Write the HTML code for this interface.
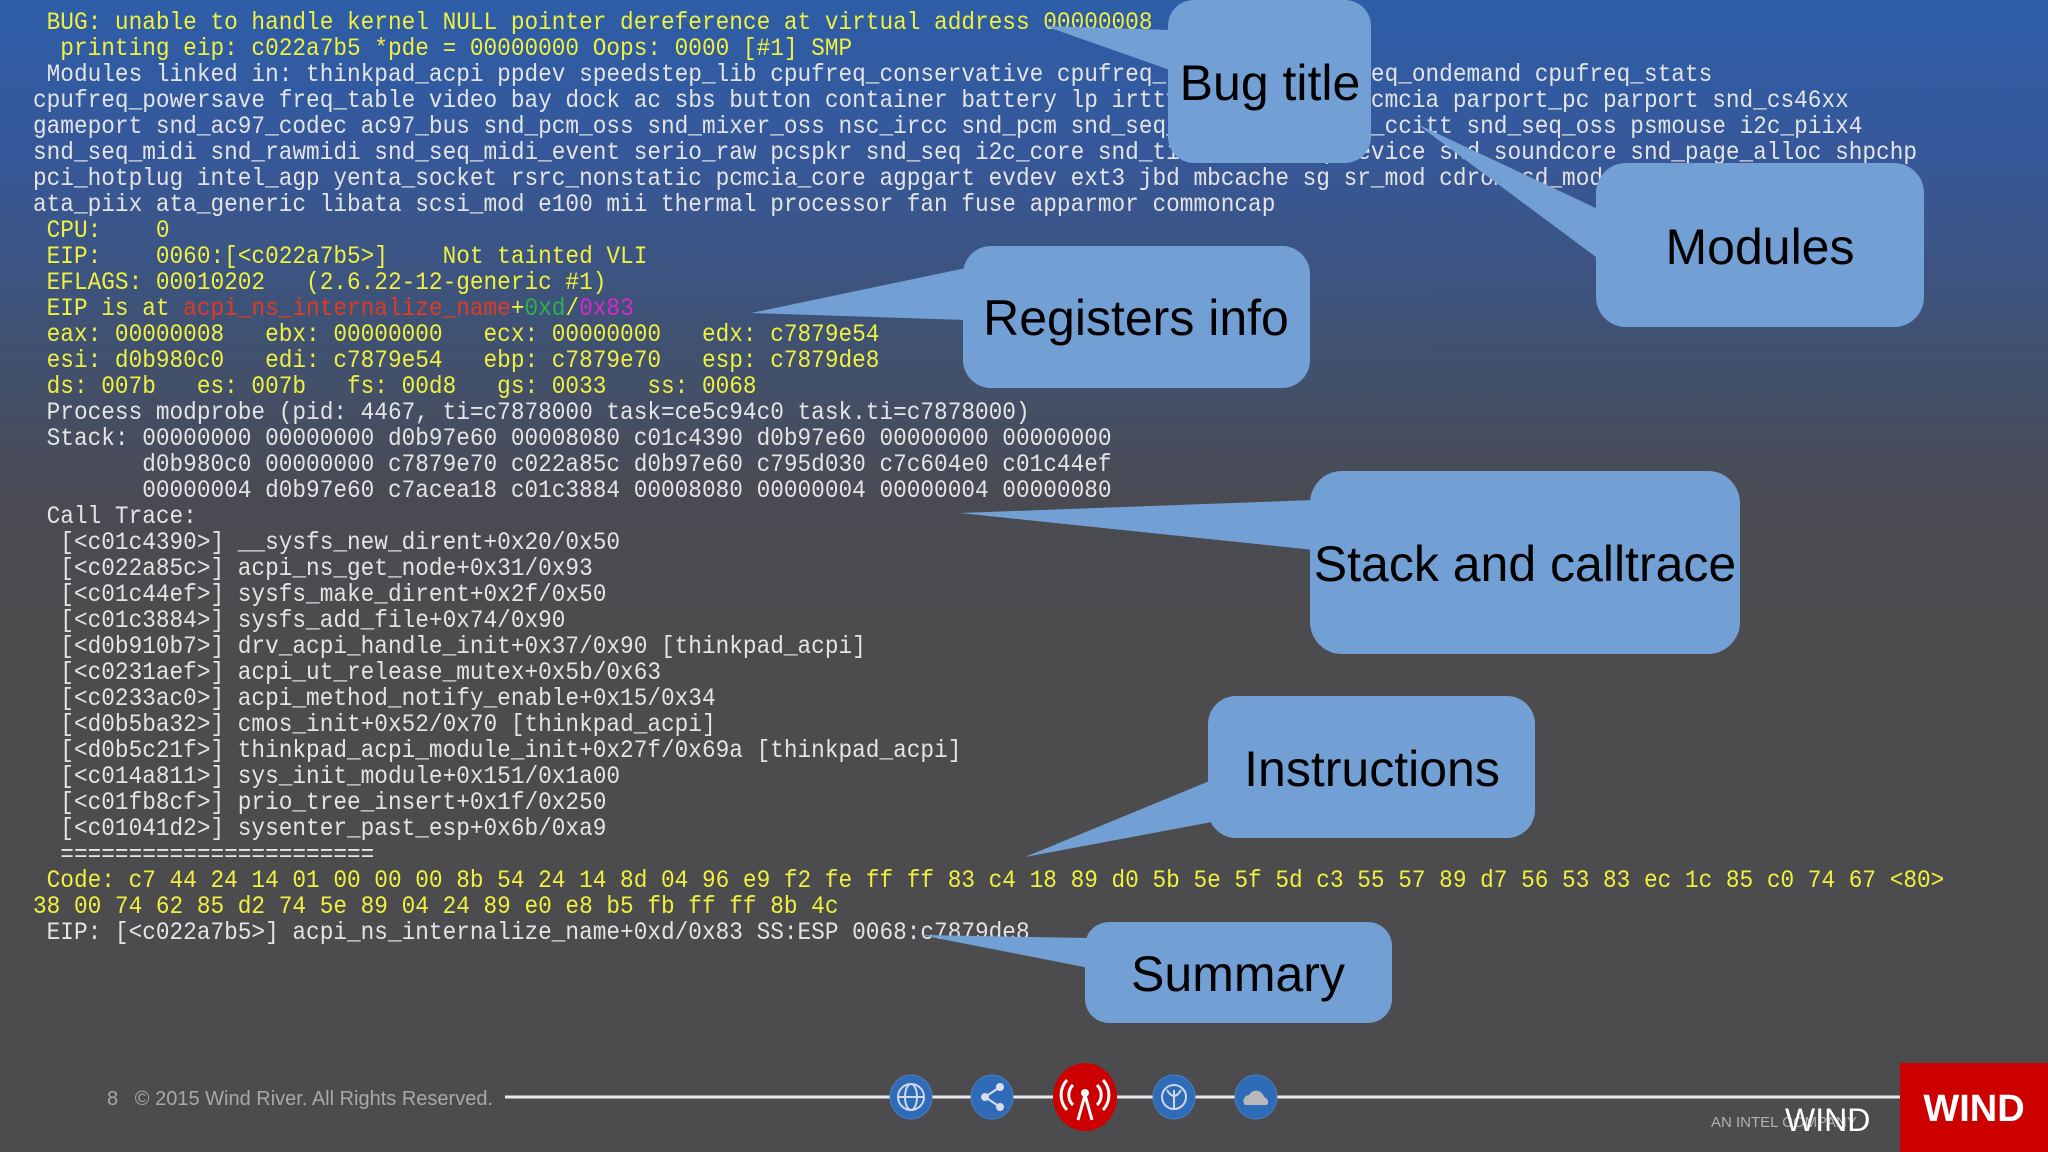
<!DOCTYPE html>
<html><head><meta charset="utf-8">
<style>
html,body{margin:0;padding:0}
body{width:2048px;height:1152px;overflow:hidden;position:relative;
background:linear-gradient(to bottom,#2d5ea8 0px,#36589a 150px,#3f5274 330px,#4a4b52 500px,#4c4c4e 640px,#4c4c4e 1152px);}
pre{position:absolute;left:33px;top:10px;margin:0;font-family:"Liberation Mono",monospace;font-size:25px;line-height:26px;color:#e4e4e4;transform:scaleX(0.91);transform-origin:0 0;width:4000px;}
.y{color:#f0f040}.r{color:#e03a22}.g{color:#2ab34a}.m{color:#d42ac8}
svg{position:absolute;left:0;top:0}
</style></head><body>
<pre><span class="y"> BUG: unable to handle kernel NULL pointer dereference at virtual address 00000008
  printing eip: c022a7b5 *pde = 00000000 Oops: 0000 [#1] SMP</span>
 Modules linked in: thinkpad_acpi ppdev speedstep_lib cpufreq_conservative cpufreq_userspace cpufreq_ondemand cpufreq_stats
cpufreq_powersave freq_table video bay dock ac sbs button container battery lp irtty_sir sir_dev pcmcia parport_pc parport snd_cs46xx
gameport snd_ac97_codec ac97_bus snd_pcm_oss snd_mixer_oss nsc_ircc snd_pcm snd_seq_dummy irda crc_ccitt snd_seq_oss psmouse i2c_piix4
snd_seq_midi snd_rawmidi snd_seq_midi_event serio_raw pcspkr snd_seq i2c_core snd_timer snd_seq_device snd soundcore snd_page_alloc shpchp
pci_hotplug intel_agp yenta_socket rsrc_nonstatic pcmcia_core agpgart evdev ext3 jbd mbcache sg sr_mod cdrom sd_mod
ata_piix ata_generic libata scsi_mod e100 mii thermal processor fan fuse apparmor commoncap
<span class="y"> CPU:    0
 EIP:    0060:[&lt;c022a7b5&gt;]    Not tainted VLI
 EFLAGS: 00010202   (2.6.22-12-generic #1)
 EIP is at <span class="r">acpi_ns_internalize_name</span>+<span class="g">0xd</span>/<span class="m">0x83</span>
 eax: 00000008   ebx: 00000000   ecx: 00000000   edx: c7879e54
 esi: d0b980c0   edi: c7879e54   ebp: c7879e70   esp: c7879de8
 ds: 007b   es: 007b   fs: 00d8   gs: 0033   ss: 0068</span>
 Process modprobe (pid: 4467, ti=c7878000 task=ce5c94c0 task.ti=c7878000)
 Stack: 00000000 00000000 d0b97e60 00008080 c01c4390 d0b97e60 00000000 00000000
        d0b980c0 00000000 c7879e70 c022a85c d0b97e60 c795d030 c7c604e0 c01c44ef
        00000004 d0b97e60 c7acea18 c01c3884 00008080 00000004 00000004 00000080
 Call Trace:
  [&lt;c01c4390&gt;] __sysfs_new_dirent+0x20/0x50
  [&lt;c022a85c&gt;] acpi_ns_get_node+0x31/0x93
  [&lt;c01c44ef&gt;] sysfs_make_dirent+0x2f/0x50
  [&lt;c01c3884&gt;] sysfs_add_file+0x74/0x90
  [&lt;d0b910b7&gt;] drv_acpi_handle_init+0x37/0x90 [thinkpad_acpi]
  [&lt;c0231aef&gt;] acpi_ut_release_mutex+0x5b/0x63
  [&lt;c0233ac0&gt;] acpi_method_notify_enable+0x15/0x34
  [&lt;d0b5ba32&gt;] cmos_init+0x52/0x70 [thinkpad_acpi]
  [&lt;d0b5c21f&gt;] thinkpad_acpi_module_init+0x27f/0x69a [thinkpad_acpi]
  [&lt;c014a811&gt;] sys_init_module+0x151/0x1a00
  [&lt;c01fb8cf&gt;] prio_tree_insert+0x1f/0x250
  [&lt;c01041d2&gt;] sysenter_past_esp+0x6b/0xa9
  =======================
<span class="y"> Code: c7 44 24 14 01 00 00 00 8b 54 24 14 8d 04 96 e9 f2 fe ff ff 83 c4 18 89 d0 5b 5e 5f 5d c3 55 57 89 d7 56 53 83 ec 1c 85 c0 74 67 &lt;80&gt;
38 00 74 62 85 d2 74 5e 89 04 24 89 e0 e8 b5 fb ff ff 8b 4c</span>
 EIP: [&lt;c022a7b5&gt;] acpi_ns_internalize_name+0xd/0x83 SS:ESP 0068:c7879de8</pre>

<svg width="2048" height="1152" viewBox="0 0 2048 1152" font-family="Liberation Sans, sans-serif">
<g fill="#729fd4">
 <polygon points="1045,26 1170,30 1170,70"/>
 <rect x="1168" y="0" width="203" height="163" rx="26"/>
 <polygon points="1417,124 1600,210 1600,260"/>
 <rect x="1596" y="163" width="328" height="164" rx="30"/>
 <polygon points="751,313 966,268 966,320"/>
 <rect x="963" y="246" width="347" height="142" rx="28"/>
 <polygon points="960,513 1314,500 1314,550"/>
 <rect x="1310" y="471" width="430" height="183" rx="32"/>
 <polygon points="1025,857 1212,780 1212,822"/>
 <rect x="1208" y="696" width="327" height="142" rx="28"/>
 <polygon points="921,935 1089,938 1089,968"/>
 <rect x="1085" y="922" width="307" height="101" rx="24"/>
</g>
<g fill="#000" font-size="50" text-anchor="middle">
 <text x="1270" y="100">Bug title</text>
 <text x="1760" y="264">Modules</text>
 <text x="1136" y="335">Registers info</text>
 <text x="1525" y="581">Stack and calltrace</text>
 <text x="1372" y="786">Instructions</text>
 <text x="1238" y="991">Summary</text>
</g>
<line x1="505" y1="1097" x2="1900" y2="1097" stroke="#e8e8e8" stroke-width="3"/>
<text x="107" y="1105" fill="#a8a8a8" font-size="20" xml:space="preserve">8   © 2015 Wind River. All Rights Reserved.</text>
<g fill="#2e6bb8" stroke="#4a7fc4" stroke-width="1">
 <ellipse cx="911" cy="1097" rx="21" ry="22"/>
 <ellipse cx="992" cy="1097" rx="21" ry="22"/>
 <ellipse cx="1174" cy="1097" rx="21" ry="22"/>
 <ellipse cx="1256" cy="1097" rx="21" ry="22"/>
</g>
<ellipse cx="1085" cy="1097" rx="32" ry="34" fill="#cc0000"/>
<g fill="none" stroke="#cfd8e8" stroke-width="2">
 <circle cx="911" cy="1097" r="13"/><ellipse cx="911" cy="1097" rx="6" ry="13"/><line x1="898" y1="1097" x2="924" y2="1097"/>
 <circle cx="1174" cy="1097" r="12"/><path d="M1167 1090 q7 12 14 0 M1174 1090 v18"/>
</g>
<g fill="#d8dfea"><circle cx="1000" cy="1087" r="4"/><circle cx="985" cy="1097" r="4"/><circle cx="1000" cy="1107" r="4"/></g>
<path d="M1000 1087 L985 1097 L1000 1107" stroke="#d8dfea" stroke-width="2" fill="none"/>
<path d="M1245 1105 a6 6 0 0 1 4 -10 a8 8 0 0 1 15 2 a5 5 0 0 1 3 8 z" fill="#b8b8b8"/>
<g fill="none" stroke="#fff" stroke-width="3">
 <path d="M1073 1085 a14 14 0 0 0 0 20 M1097 1085 a14 14 0 0 1 0 20 M1067 1080 a22 22 0 0 0 0 30 M1103 1080 a22 22 0 0 1 0 30"/>
 <path d="M1085 1095 L1078 1120 M1085 1095 L1092 1120"/>
</g>
<circle cx="1085" cy="1093" r="4" fill="#fff"/>
<rect x="1900" y="1063" width="148" height="89" fill="#cc0000"/>
<text x="1974" y="1121" fill="#fff" font-size="38" font-weight="bold" text-anchor="middle">WIND</text>
<text x="1711" y="1127" fill="#b0b0b0" font-size="15">AN INTEL COMPANY</text>
<text x="1785" y="1131" fill="#fff" font-size="32">WIND</text>
</svg>
</body></html>
